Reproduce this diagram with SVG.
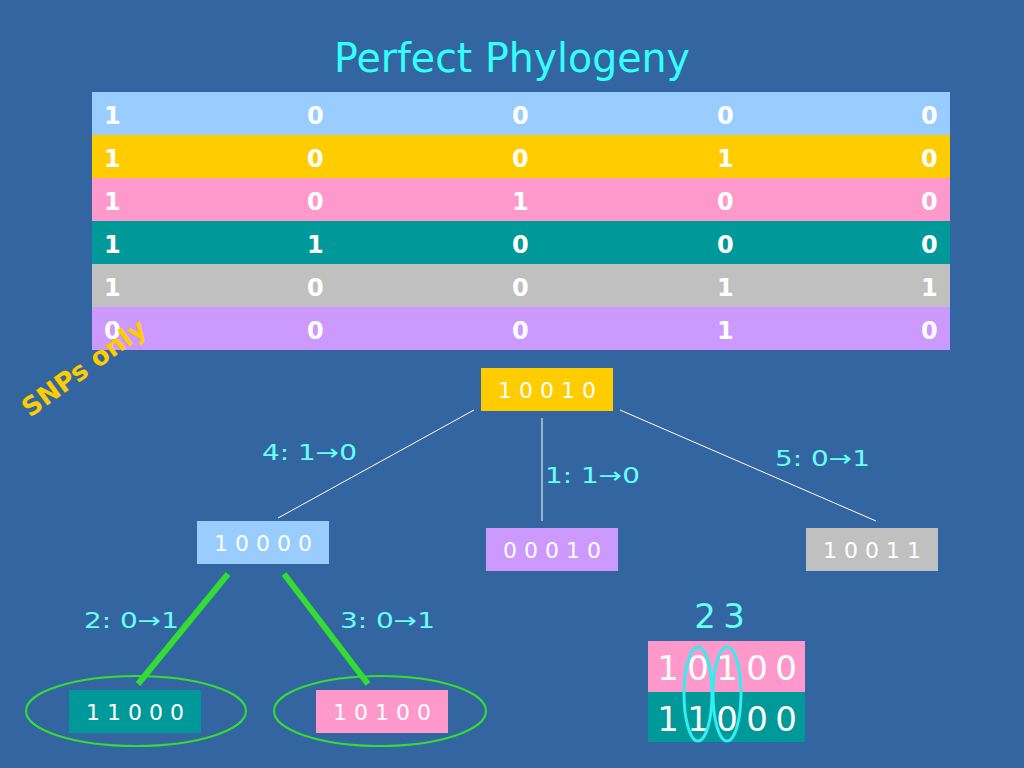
<svg xmlns="http://www.w3.org/2000/svg" width="1024" height="768" viewBox="0 0 1024 768">
<style>
.c{font-family:Tahoma,"DejaVu Sans",sans-serif;font-weight:bold;font-size:24px;fill:#fff}
.n{font-family:"DejaVu Sans",sans-serif;font-size:22px;fill:#fff}
.l{font-family:"DejaVu Sans",sans-serif;font-size:22px;fill:#66ffff}
.big{font-family:"DejaVu Sans",sans-serif;font-size:34px;fill:#fff;text-anchor:middle}
</style>
<rect width="1024" height="768" fill="#3366a0"/>
<text x="512" y="72" text-anchor="middle" font-family="'DejaVu Sans',sans-serif" font-size="40" fill="#33ffff" textLength="356" lengthAdjust="spacingAndGlyphs">Perfect Phylogeny</text>
<g id="table">
<rect x="92" y="92" width="858" height="43" fill="#99ccff"/>
<rect x="92" y="135" width="858" height="43" fill="#ffcc00"/>
<rect x="92" y="178" width="858" height="43" fill="#ff99cc"/>
<rect x="92" y="221" width="858" height="43" fill="#009999"/>
<rect x="92" y="264" width="858" height="43" fill="#c0c0c0"/>
<rect x="92" y="307" width="858" height="43" fill="#cc99ff"/>
<text x="104" y="124" class="c">1</text><text x="307" y="124" class="c">0</text><text x="512" y="124" class="c">0</text><text x="717" y="124" class="c">0</text><text x="921" y="124" class="c">0</text>
<text x="104" y="167" class="c">1</text><text x="307" y="167" class="c">0</text><text x="512" y="167" class="c">0</text><text x="717" y="167" class="c">1</text><text x="921" y="167" class="c">0</text>
<text x="104" y="210" class="c">1</text><text x="307" y="210" class="c">0</text><text x="512" y="210" class="c">1</text><text x="717" y="210" class="c">0</text><text x="921" y="210" class="c">0</text>
<text x="104" y="253" class="c">1</text><text x="307" y="253" class="c">1</text><text x="512" y="253" class="c">0</text><text x="717" y="253" class="c">0</text><text x="921" y="253" class="c">0</text>
<text x="104" y="296" class="c">1</text><text x="307" y="296" class="c">0</text><text x="512" y="296" class="c">0</text><text x="717" y="296" class="c">1</text><text x="921" y="296" class="c">1</text>
<text x="104" y="339" class="c">0</text><text x="307" y="339" class="c">0</text><text x="512" y="339" class="c">0</text><text x="717" y="339" class="c">1</text><text x="921" y="339" class="c">0</text>
</g>
<text transform="translate(30,418) rotate(-36)" font-family="'DejaVu Sans',sans-serif" font-weight="bold" font-size="26" fill="#ffcc00" textLength="146" lengthAdjust="spacingAndGlyphs">SNPs only</text>
<g id="connectors" stroke="#fff" stroke-width="1">
<line x1="474" y1="410" x2="278" y2="518"/>
<line x1="542" y1="418" x2="542" y2="521"/>
<line x1="620" y1="410" x2="876" y2="521"/>
<line x1="228" y1="574" x2="138" y2="684" stroke="#33dd33" stroke-width="6"/>
<line x1="284" y1="574" x2="368" y2="684" stroke="#33dd33" stroke-width="6"/>
</g>
<g id="labels">
<text x="262" y="460" class="l" textLength="95" lengthAdjust="spacingAndGlyphs">4: 1→0</text>
<text x="545" y="483" class="l" textLength="95" lengthAdjust="spacingAndGlyphs">1: 1→0</text>
<text x="775" y="466" class="l" textLength="95" lengthAdjust="spacingAndGlyphs">5: 0→1</text>
<text x="84" y="628" class="l" textLength="95" lengthAdjust="spacingAndGlyphs">2: 0→1</text>
<text x="340" y="628" class="l" textLength="95" lengthAdjust="spacingAndGlyphs">3: 0→1</text>
</g>
<g id="root"><rect x="481" y="368" width="132" height="43" fill="#ffcc00"/><text x="547" y="398" text-anchor="middle" class="n">1 0 0 1 0</text></g>
<g id="n1"><rect x="197" y="521" width="132" height="43" fill="#99ccff"/><text x="263" y="551" text-anchor="middle" class="n">1 0 0 0 0</text></g>
<g id="n2"><rect x="486" y="528" width="132" height="43" fill="#cc99ff"/><text x="552" y="558" text-anchor="middle" class="n">0 0 0 1 0</text></g>
<g id="n3"><rect x="806" y="528" width="132" height="43" fill="#c0c0c0"/><text x="872" y="558" text-anchor="middle" class="n">1 0 0 1 1</text></g>
<g id="n4"><ellipse cx="136" cy="711" rx="110" ry="35" fill="none" stroke="#33dd33" stroke-width="2"/><rect x="69" y="690" width="132" height="43" fill="#009999"/><text x="135" y="720" text-anchor="middle" class="n">1 1 0 0 0</text></g>
<g id="n5"><ellipse cx="380" cy="711" rx="106" ry="35" fill="none" stroke="#33dd33" stroke-width="2"/><rect x="316" y="690" width="132" height="43" fill="#ff99cc"/><text x="382" y="720" text-anchor="middle" class="n">1 0 1 0 0</text></g>
<g id="compare">
<text x="705" y="628" font-family="'DejaVu Sans',sans-serif" font-size="34" fill="#66ffff" text-anchor="middle">2</text>
<text x="734" y="628" font-family="'DejaVu Sans',sans-serif" font-size="34" fill="#66ffff" text-anchor="middle">3</text>
<rect x="648" y="641" width="157" height="51" fill="#ff99cc"/>
<rect x="648" y="692" width="157" height="50" fill="#009999"/>
<text y="680" class="big" x="668 698 727 757 786">10100</text>
<text y="731" class="big" x="668 698 727 757 786">11000</text>
<ellipse cx="698" cy="694" rx="14" ry="47" fill="none" stroke="#33eeee" stroke-width="3"/>
<ellipse cx="727" cy="694" rx="14" ry="47" fill="none" stroke="#33eeee" stroke-width="3"/>
</g>
</svg>
